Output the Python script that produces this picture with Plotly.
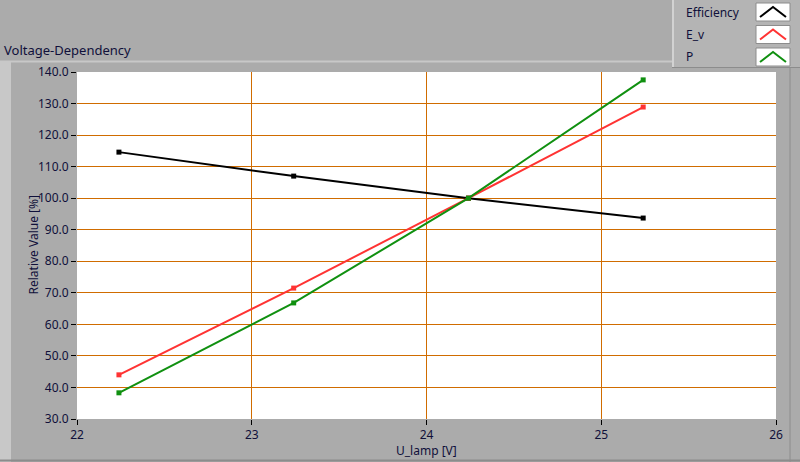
import plotly.graph_objects as go

# readings from the LabVIEW graph
u_lamp = [22.24, 23.24, 24.24, 25.24]
efficiency = [114.6, 107.0, 100.0, 93.7]
e_v = [44.0, 71.5, 100.0, 128.9]
p = [38.3, 66.8, 100.0, 137.5]

series_names = ["Efficiency", "E_v", "P"]
series_values = [efficiency, e_v, p]
series_colors = ["#000000", "#ff3333", "#109010"]

W, H = 800, 462
L, R, T, B = 77, 776, 72, 419  # plot area in pixels

FONT = "Noto Sans"
TXT = "#10103a"
GRID = "#d06c00"


def px(x):
    return (x - L) / (R - L)


def py(y):
    return (B - y) / (B - T)


fig = go.Figure()

for name, vals, col in zip(series_names, series_values, series_colors):
    fig.add_trace(
        go.Scatter(
            x=u_lamp,
            y=vals,
            name=name,
            mode="lines+markers",
            line=dict(color=col, width=2),
            marker=dict(symbol="square", size=5, color=col),
            showlegend=False,
        )
    )

shapes = []
annotations = []

# frame decorations (lighter strips like the LabVIEW panel)
shapes.append(dict(type="rect", xref="paper", yref="paper", layer="below",
                   x0=px(0), x1=px(11), y0=py(462), y1=py(62),
                   fillcolor="#c8c8c8", line_width=0))
shapes.append(dict(type="line", xref="paper", yref="paper", layer="below",
                   x0=px(0), x1=px(672), y0=py(61.5), y1=py(61.5),
                   line=dict(color="#c8c8c8", width=2)))
shapes.append(dict(type="line", xref="paper", yref="paper", layer="below",
                   x0=px(790), x1=px(790), y0=py(462), y1=py(68),
                   line=dict(color="#8c8c8c", width=1)))
shapes.append(dict(type="line", xref="paper", yref="paper", layer="below",
                   x0=px(0), x1=px(800), y0=py(460.5), y1=py(460.5),
                   line=dict(color="#8c8c8c", width=2)))

# legend panel
shapes.append(dict(type="rect", xref="paper", yref="paper",
                   x0=px(672), x1=px(800), y0=py(68), y1=py(0),
                   fillcolor="#b4b4b4", line_width=0))
shapes.append(dict(type="line", xref="paper", yref="paper",
                   x0=px(673), x1=px(673), y0=py(68), y1=py(0),
                   line=dict(color="#d2d2d2", width=2)))
shapes.append(dict(type="line", xref="paper", yref="paper",
                   x0=px(672), x1=px(800), y0=py(67.5), y1=py(67.5),
                   line=dict(color="#8c8c8c", width=1)))

for i, (name, col) in enumerate(zip(series_names, series_colors)):
    top = 3 + i * 22.5
    shapes.append(dict(type="rect", xref="paper", yref="paper",
                       x0=px(756), x1=px(790), y0=py(top + 18), y1=py(top),
                       fillcolor="white", line=dict(color="#8c8c8c", width=1)))
    path = "M {},{} L {},{} L {},{}".format(
        px(760), py(top + 14), px(773), py(top + 4), px(786), py(top + 14))
    shapes.append(dict(type="path", xref="paper", yref="paper", path=path,
                       line=dict(color=col, width=2)))
    annotations.append(dict(text=name, xref="paper", yref="paper",
                            x=px(684), y=py(top + 9), xanchor="left",
                            yanchor="middle", showarrow=False,
                            font=dict(family=FONT, size=12, color=TXT)))

annotations.append(dict(text="Voltage-Dependency", xref="paper", yref="paper",
                        x=px(2), y=py(50), xanchor="left", yanchor="middle",
                        showarrow=False,
                        font=dict(family=FONT, size=13, color=TXT)))

# axis titles placed by hand, LabVIEW style
annotations.append(dict(text="U_lamp [V]", xref="paper", yref="paper",
                        x=0.5, y=py(450), xanchor="center", yanchor="middle",
                        showarrow=False,
                        font=dict(family=FONT, size=12, color=TXT)))
annotations.append(dict(text="Relative Value [%]", xref="paper", yref="paper",
                        x=px(33), y=0.5, xanchor="center", yanchor="middle",
                        textangle=-90, showarrow=False,
                        font=dict(family=FONT, size=12, color=TXT)))

fig.update_layout(
    width=W,
    height=H,
    margin=dict(l=L, r=W - R, t=T, b=H - B, pad=0, autoexpand=False),
    paper_bgcolor="#ababab",
    plot_bgcolor="white",
    font=dict(family=FONT, size=12, color=TXT),
    shapes=shapes,
    annotations=annotations,
    showlegend=False,
)

fig.update_xaxes(
    range=[22, 26],
    dtick=1,
    tick0=22,
    showgrid=True,
    gridcolor=GRID,
    gridwidth=1,
    zeroline=False,
    ticks="outside",
    ticklen=5,
    tickcolor="#000000",
    showline=False,
    tickfont=dict(size=12),
    automargin=False,
)

fig.update_yaxes(
    range=[30, 140],
    dtick=10,
    tick0=30,
    tickformat=".1f",
    showgrid=True,
    gridcolor=GRID,
    gridwidth=1,
    zeroline=False,
    ticks="outside",
    ticklen=5,
    tickcolor="#000000",
    showline=False,
    tickfont=dict(size=12),
    automargin=False,
)

# page has a default 8px body margin; drop it so the figure sits at 0,0
fig.write_html(
    "out.html",
    config={"displayModeBar": False},
    post_script="document.body.style.margin='0';",
)
